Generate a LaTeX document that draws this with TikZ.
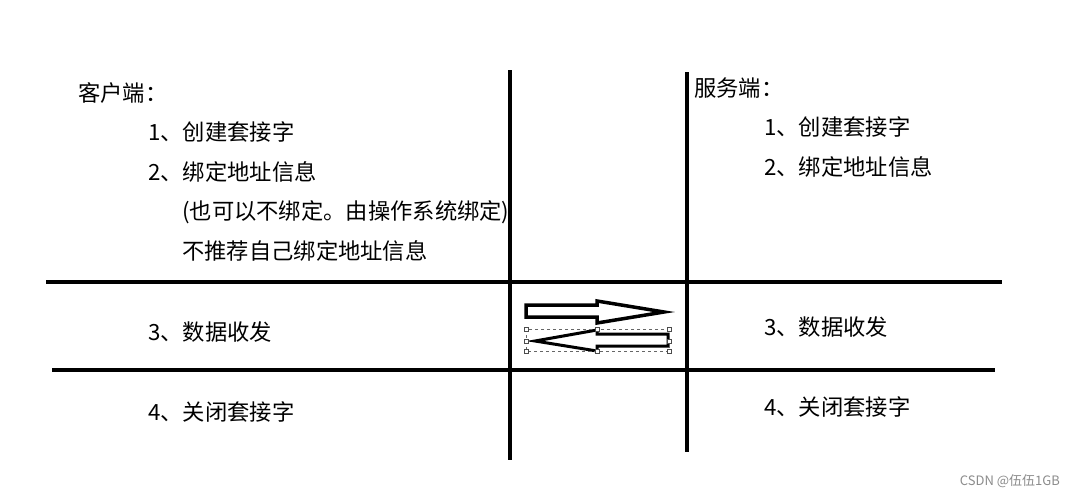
\documentclass[tikz,border=0pt]{standalone}
\usepackage{fontspec}
\setmainfont{Noto Sans CJK SC}
\begin{document}
\begin{tikzpicture}[x=1pt,y=-1pt,
  wall/.style={line width=4pt},
  txt/.style={anchor=west,inner sep=0pt,font=\fontsize{22.3}{26}\selectfont},
  arrowshape/.style={line width=3.5pt,line join=miter,fill=white},
  handle/.style={draw=black!70,fill=white,line width=0.6pt,minimum size=4pt,inner sep=0pt},
  wm/.style={anchor=east,inner sep=0pt,text=black!45,font=\fontsize{13}{15}\selectfont}]
\useasboundingbox (0,0) rectangle (1076,498);
\fill[white] (0,0) rectangle (1076,498);
% grid lines
\coordinate (v1t) at (510,70);  \coordinate (v1b) at (510,460);
\coordinate (v2t) at (687,72);  \coordinate (v2b) at (687,452);
\coordinate (h1l) at (46,282);  \coordinate (h1r) at (1002,282);
\coordinate (h2l) at (52,370);  \coordinate (h2r) at (995,370);
\draw[wall] (v1t) -- (v1b);
\draw[wall] (v2t) -- (v2b);
\draw[wall] (h1l) -- (h1r);
\draw[wall] (h2l) -- (h2r);
% client texts
\node[txt] (c0) at (78,93)  {客户端：};
\node[txt] (c1) at (148,132) {1、创建套接字};
\node[txt] (c2) at (148,172) {2、绑定地址信息};
\node[txt] (c3) at (182,212) {(也可以不绑定。由操作系统绑定)};
\node[txt] (c4) at (182,251) {不推荐自己绑定地址信息};
\node[txt] (c5) at (148,332) {3、数据收发};
\node[txt] (c6) at (148,412) {4、关闭套接字};
% server texts
\node[txt] (s0) at (694,88)  {服务端：};
\node[txt] (s1) at (764,127) {1、创建套接字};
\node[txt] (s2) at (764,167) {2、绑定地址信息};
\node[txt] (s5) at (764,327) {3、数据收发};
\node[txt] (s6) at (764,407) {4、关闭套接字};
% right arrow
\draw[arrowshape] (526,305) -- (597,305) -- (597,301) -- (664,312) -- (597,323) -- (597,317) -- (526,317) -- cycle;
% left arrow
\draw[arrowshape,line width=3pt] (668,334) -- (597,334) -- (597,330) -- (535,341) -- (597,351) -- (597,346) -- (668,346) -- cycle;
% selection box
\draw[dashed,black!60,line width=0.6pt] (526,329) rectangle (669,351);
\foreach \p in {(526,329),(597,329),(669,329),(526,341),(669,341),(526,351),(597,351),(669,351)}
  \node[handle] at \p {};
% watermark
\node[wm] (w) at (1060,481) {CSDN @伍伍1GB};
\end{tikzpicture}
\end{document}
